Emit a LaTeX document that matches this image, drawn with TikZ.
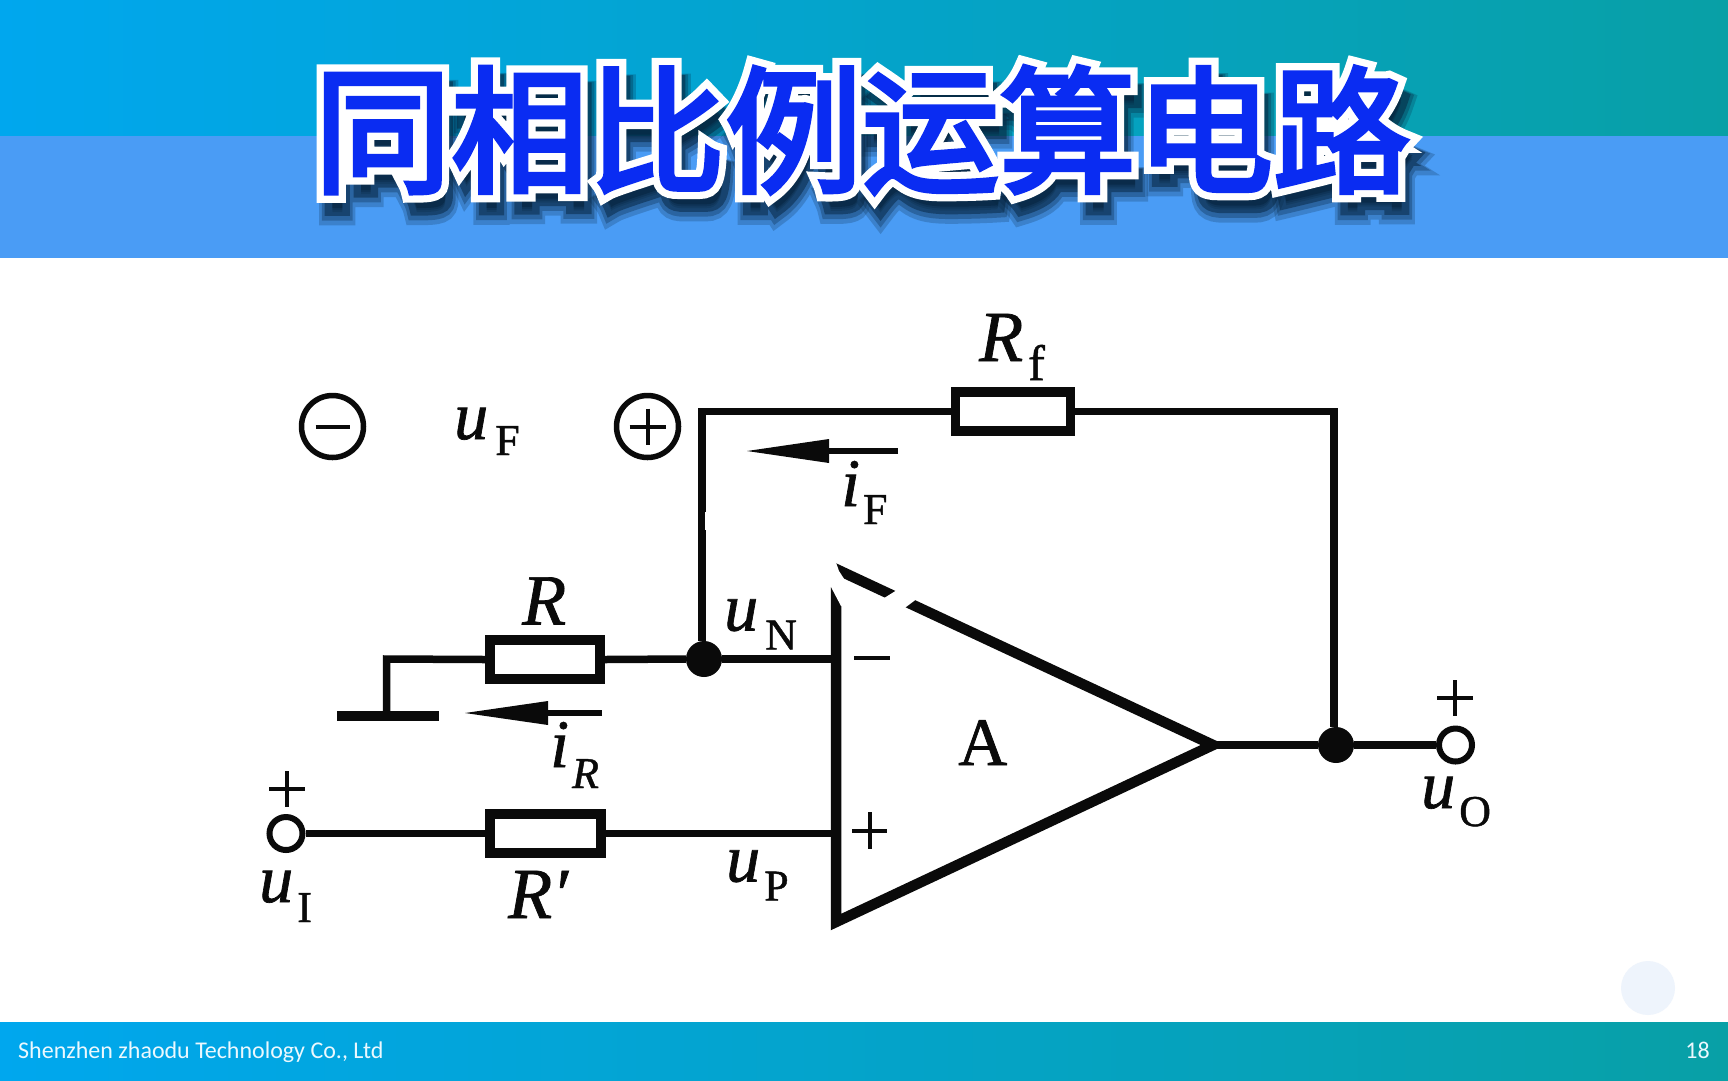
\documentclass[tikz,border=0pt]{standalone}
\usepackage{fontspec}
\setmainfont{Liberation Serif}[FakeBold=1]
\newfontfamily\footfont{Carlito}
\newfontfamily\ttlfill[FakeBold=3.5]{Noto Sans CJK SC}
\newfontfamily\ttlwhite[FakeBold=14]{Noto Sans CJK SC}
\newfontfamily\ttlshadowa[FakeBold=19]{Noto Sans CJK SC}
\newfontfamily\ttlshadowb[FakeBold=15]{Noto Sans CJK SC}
\newfontfamily\ttlshadowc[FakeBold=11]{Noto Sans CJK SC}
\definecolor{bandL}{HTML}{00A7EE}
\definecolor{bandM}{HTML}{02A6D8}
\definecolor{bandR}{HTML}{08A0A6}
\definecolor{bandmid}{HTML}{4A9CF5}
\definecolor{titleblue}{HTML}{0A2CF2}
\definecolor{inkk}{HTML}{0A0A0A}
\definecolor{shadowc}{HTML}{06243E}
\definecolor{badgec}{HTML}{EEF4FC}
\newcommand\ttl{同相比例运算电路}
\newcommand\symb[5]{{\fontsize{68}{68}\selectfont\itshape #1\hspace{#4pt}\raisebox{-#5pt}{\fontsize{#3}{#3}\selectfont #2}}}
\tikzset{
  x=1pt,y=-1pt,
  wire/.style={line width=7.5pt,draw=inkk},
  thinwire/.style={line width=5.5pt,draw=inkk},
  resbox/.style={draw=inkk,line width=9.5pt,fill=white,inner sep=0pt,minimum height=39pt},
  junction/.style={circle,fill=inkk,inner sep=0pt,minimum size=36pt},
  terminal/.style={circle,draw=inkk,fill=white,line width=6pt,inner sep=0pt,minimum size=33pt},
  signring/.style={circle,draw=inkk,line width=5.5pt,inner sep=0pt,minimum size=62pt},
  lbl/.style={inner sep=0pt,anchor=base west,text=inkk},
  titletext/.style={inner sep=0pt,anchor=base west},
  amp/.style={draw=inkk,line width=10.5pt,line join=miter},
  headarrow/.style={fill=inkk,draw=none},
  pinmark/.style={draw=inkk,line width=4pt}
}
\begin{document}
\begin{tikzpicture}
\useasboundingbox (0,0) rectangle (1728,1080);
% backdrop
\fill[white] (0,0) rectangle (1728,1080);
\shade[left color=bandL,middle color=bandM,right color=bandR] (0,0) rectangle (1728,136);
\fill[bandmid] (0,136) rectangle (1728,258);
\shade[left color=bandL,middle color=bandM,right color=bandR] (0,1022) rectangle (1728,1080);
% title
\node[titletext,text=shadowc,opacity=.22] (tsa) at (320,201) {\fontsize{137}{137}\ttlshadowa\ttl};
\node[titletext,text=shadowc,opacity=.3] (tsb) at (320,199) {\fontsize{137}{137}\ttlshadowb\ttl};
\node[titletext,text=shadowc,opacity=.5] (tsc) at (320,197) {\fontsize{137}{137}\ttlshadowc\ttl};
\node[titletext,text=white] (titleback) at (314,182) {\fontsize{137}{137}\ttlwhite\ttl};
\node[titletext,text=titleblue] (title) at (314,182) {\fontsize{137}{137}\ttlfill\ttl};
% footer
\node[inner sep=0pt,anchor=base west,text=white!92!cyan] (company) at (18,1058) {\fontsize{24}{24}\footfont Shenzhen zhaodu Technology Co., Ltd};
\node[inner sep=0pt,anchor=base east,text=white!92!cyan] (page) at (1710,1058) {\fontsize{24}{24}\footfont 18};
\node[circle,fill=badgec,inner sep=0pt,minimum size=54pt] (badge) at (1648,988) {};
% amplifier
\coordinate (tl) at (836,569);
\coordinate (tb) at (836,922);
\coordinate (apex) at (1213,745);
\coordinate (pinN) at (836,659);
\coordinate (pinP) at (836,833.5);
% nets
\coordinate (cornerL) at (702,412);
\coordinate (cornerR) at (1334,410);
\coordinate (gndw) at (386.5,659);
\coordinate (gndb) at (386.5,716);
\coordinate (gl) at (337,716);
\coordinate (gr) at (439,716);
% components
\node[resbox,minimum width=110pt] (R) at (545,659.5) {};
\node[resbox,minimum width=111pt] (Rp) at (545.5,833.5) {};
\node[resbox,minimum width=115pt] (Rf) at (1013,411.5) {};
\node[junction] (jN) at (704,659) {};
\node[junction] (jO) at (1336,745) {};
\node[terminal] (uin) at (286,833.5) {};
\node[terminal] (uout) at (1455.5,745) {};
\node[signring] (sm) at (332.5,426.5) {};
\node[signring] (sp) at (647.5,426.5) {};
\draw[pinmark] (sm.center) +(-17,0) -- +(17,0);
\draw[pinmark] (sp.center) +(-18,0) -- +(18,0) (sp.center) +(0,-18) -- +(0,18);
\draw[wire,line join=miter] (Rf.west) -- (Rf.west -| cornerL) -- (cornerL |- jN.north);
\draw[wire,line join=miter] (Rf.east) -- (cornerR |- Rf.east) -- (cornerR |- jO.north);
\draw[wire] (R.east) -- (jN.west);
\draw[wire] (jN.east) -- (pinN);
\draw[wire,line join=miter] (R.west) -- (gndw) -- (gndb);
\draw[line width=10pt,draw=inkk] (gl) -- (gr);
\draw[wire] (uin.east) -- (Rp.west);
\draw[wire] (Rp.east) -- (pinP);
\draw[wire] (apex) -- (jO.west);
\draw[wire] (jO.east) -- (uout.west);
% triangle
\draw[amp] (tl) -- (tb) -- (apex) -- cycle;
% white erasures in the picture
\fill[white] (704.5,512) rectangle (710,530);
\fill[white] (822,550) -- (836,562.5) -- (839,571) -- (848,585) -- (860,592) -- (860,610) -- (841,606) -- (831,587) -- (822,587) -- cycle;
\fill[white] (881,600) -- (897,590) -- (918,598) -- (902,610) -- (880,607) -- cycle;
% pin marks
\draw[pinmark] (854,658) -- (890,658);
\draw[pinmark] (852,831) -- (887,831) (869.5,812) -- (869.5,849);
\draw[pinmark] (1437,698) -- (1473,698) (1455,680) -- (1455,716);
\draw[pinmark] (269,789) -- (305,789) (287,771) -- (287,807);
% current arrows
\coordinate (aFs) at (898,451);
\coordinate (aFe) at (747,451);
\coordinate (aRs) at (602,713);
\coordinate (aRe) at (465,713);
\draw[thinwire] (aFs) -- (829,451);
\fill[headarrow] (aFe) -- (829,439) -- (829,463) -- cycle;
\draw[thinwire] (aRs) -- (548,713);
\fill[headarrow] (aRe) -- (548,701) -- (548,725) -- cycle;
% labels
\node[lbl] (lR) at (522,624.5) {\fontsize{72}{72}\selectfont\itshape R};
\node[lbl] (lRp) at (508,918) {\fontsize{72}{72}\selectfont\itshape R′};
\node[lbl] (lRf) at (979,361) {{\fontsize{72}{72}\selectfont\itshape R}\hspace{5pt}\raisebox{-19pt}{\fontsize{50}{50}\selectfont f}};
\node[lbl] (lA) at (958,765) {\fontsize{68}{68}\selectfont A};
\node[lbl] (luF) at (454,439) {\symb{u}{\upshape F}{44}{7}{16}};
\node[lbl] (luN) at (724,630.5) {\symb{u}{\upshape N}{44}{7}{19}};
\node[lbl] (luP) at (726,881.5) {\symb{u}{\upshape P}{44}{4}{19}};
\node[lbl] (luI) at (259,902) {\symb{u}{\upshape I}{44}{4}{20}};
\node[lbl] (luO) at (1421,808) {\symb{u}{\upshape O}{44}{4}{18}};
\node[lbl] (liF) at (841,506) {\symb{i}{\upshape F}{44}{3}{18}};
\node[lbl] (liR) at (550,767) {\symb{i}{R}{44}{3}{21}};
\end{tikzpicture}
\end{document}
